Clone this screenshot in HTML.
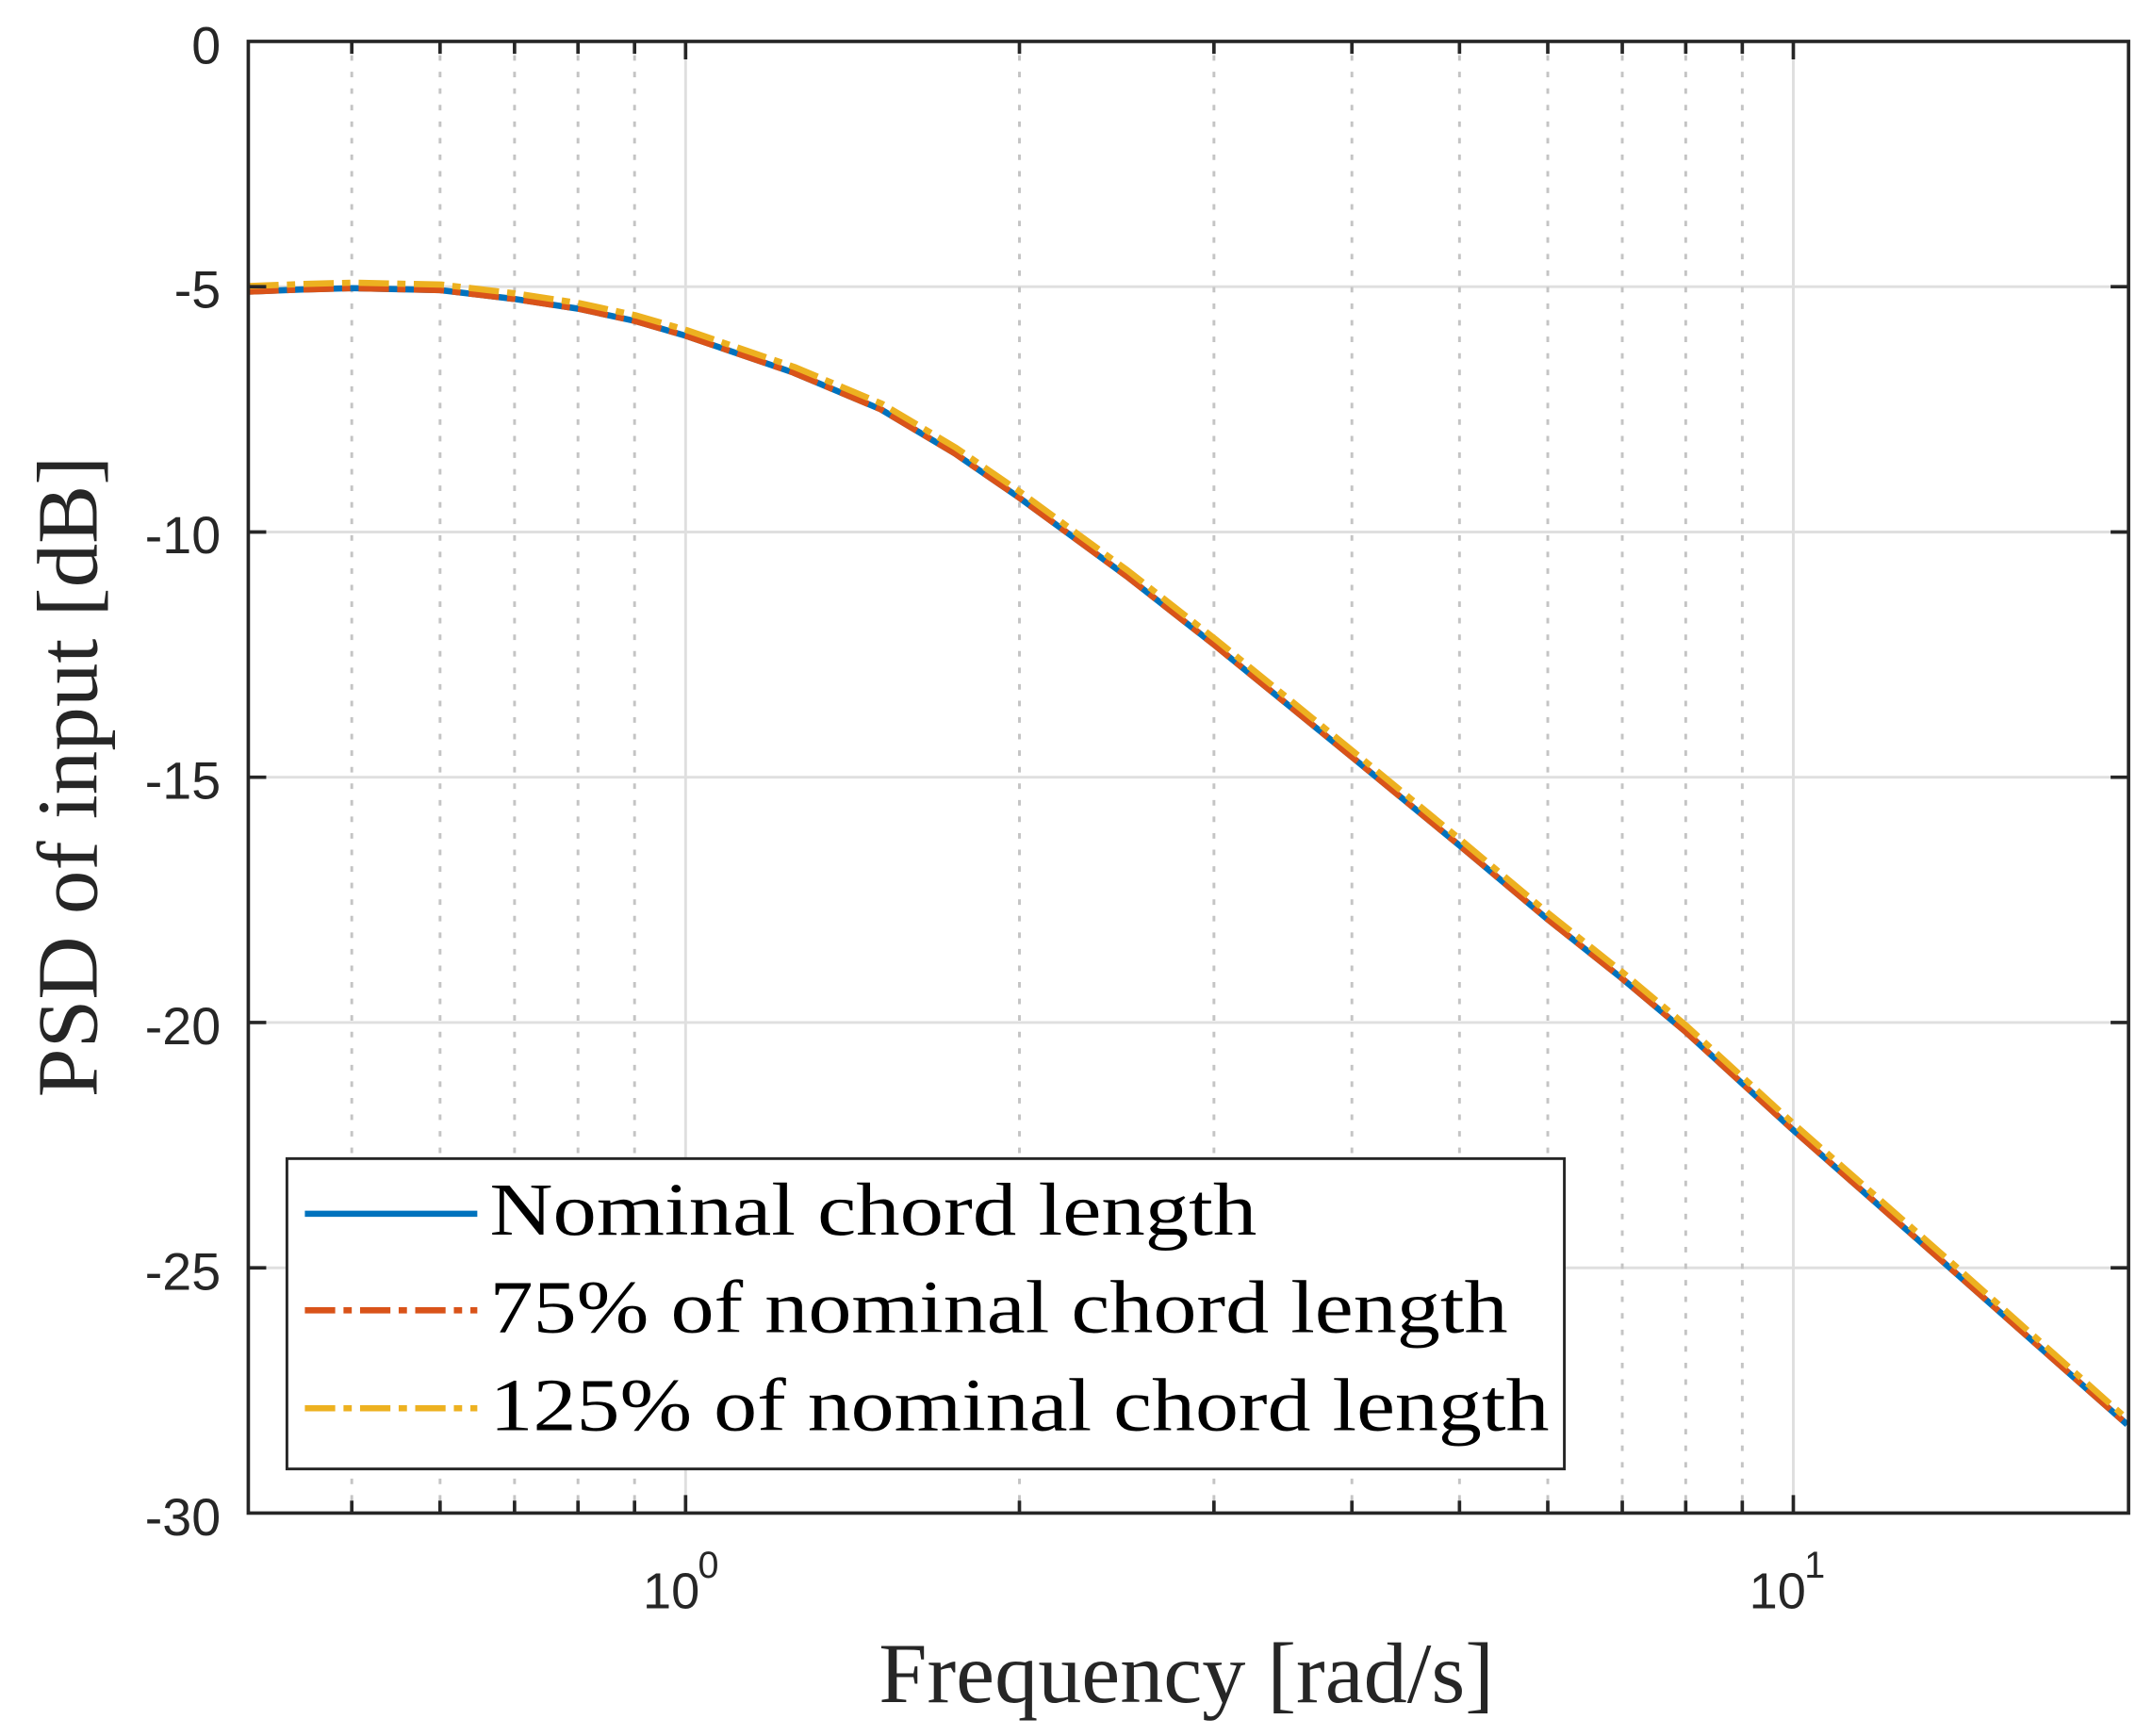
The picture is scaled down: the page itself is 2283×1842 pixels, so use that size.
<!DOCTYPE html>
<html><head><meta charset="utf-8"><style>
html,body{margin:0;padding:0;background:#fff;}
svg{display:block;}
</style></head><body>
<svg width="2283" height="1842" viewBox="0 0 1560 1258.6" xmlns="http://www.w3.org/2000/svg">
<rect x="0" y="0" width="1560" height="1258.6" fill="#fff"/>
<g stroke="#dfdfdf" stroke-width="2">
<line x1="180" x2="1543" y1="207.8" y2="207.8"/>
<line x1="180" x2="1543" y1="385.7" y2="385.7"/>
<line x1="180" x2="1543" y1="563.5" y2="563.5"/>
<line x1="180" x2="1543" y1="741.3" y2="741.3"/>
<line x1="180" x2="1543" y1="919.2" y2="919.2"/>
<line x1="497" x2="497" y1="30" y2="1097"/>
<line x1="1300" x2="1300" y1="30" y2="1097"/>
</g>
<g stroke="#c4c4c4" stroke-width="2" stroke-dasharray="4,8">
<line x1="255" x2="255" y1="40" y2="1097"/>
<line x1="319" x2="319" y1="40" y2="1097"/>
<line x1="373" x2="373" y1="40" y2="1097"/>
<line x1="419" x2="419" y1="40" y2="1097"/>
<line x1="460" x2="460" y1="40" y2="1097"/>
<line x1="739" x2="739" y1="40" y2="1097"/>
<line x1="880" x2="880" y1="40" y2="1097"/>
<line x1="980" x2="980" y1="40" y2="1097"/>
<line x1="1058" x2="1058" y1="40" y2="1097"/>
<line x1="1122" x2="1122" y1="40" y2="1097"/>
<line x1="1176" x2="1176" y1="40" y2="1097"/>
<line x1="1222" x2="1222" y1="40" y2="1097"/>
<line x1="1263" x2="1263" y1="40" y2="1097"/>
</g>
<g fill="none" stroke-width="4.5" stroke-linejoin="round">
<polyline stroke="#0072BD" points="180,211.4 218.5,209.9 255.3,208.9 318.9,210.3 372.6,216.7 419.2,223.8 460.3,232.7 497,243.4 574.8,270 638.4,296.7 692.1,328.7 738.7,360.7 816.5,417.6 880.1,467.4 980.5,549.2 1058.3,613.2 1121.9,666.5 1175.6,709.2 1222.2,748.3 1300,819.4 1417.3,922.6 1542,1032.8"/>
<polyline stroke="#D95319" stroke-dasharray="22,6,6,6" points="180,211.4 218.5,209.9 255.3,208.9 318.9,210.3 372.6,216.7 419.2,223.8 460.3,232.7 497,243.4 574.8,270 638.4,296.7 692.1,328.7 738.7,360.7 816.5,417.6 880.1,467.4 980.5,549.2 1058.3,613.2 1121.9,666.5 1175.6,709.2 1222.2,748.3 1300,819.4 1417.3,922.6 1542,1032.8"/>
<polyline stroke="#EDB120" stroke-dasharray="22,6,6,6" transform="translate(1,-4)" points="179,211.4 218.5,209.9 255.3,208.9 318.9,210.3 372.6,216.7 419.2,223.8 460.3,232.7 497,243.4 574.8,270 638.4,296.7 692.1,328.7 738.7,360.7 816.5,417.6 880.1,467.4 980.5,549.2 1058.3,613.2 1121.9,666.5 1175.6,709.2 1222.2,748.3 1300,819.4 1417.3,922.6 1541,1032.8"/>
</g>
<rect x="180" y="30" width="1363" height="1067" fill="none" stroke="#262626" stroke-width="2.5"/>
<g stroke="#262626" stroke-width="2.5">
<path d="M180,207.8h13M180,385.7h13M180,563.5h13M180,741.3h13M180,919.2h13M1543,207.8h-13M1543,385.7h-13M1543,563.5h-13M1543,741.3h-13M1543,919.2h-13"/>
<path d="M497,1097v-13M1300,1097v-13M497,30v13M1300,30v13"/>
<path d="M255,1097v-9M319,1097v-9M373,1097v-9M419,1097v-9M460,1097v-9M739,1097v-9M880,1097v-9M980,1097v-9M1058,1097v-9M1122,1097v-9M1176,1097v-9M1222,1097v-9M1263,1097v-9"/>
<path d="M255,30v9M319,30v9M373,30v9M419,30v9M460,30v9M739,30v9M880,30v9M980,30v9M1058,30v9M1122,30v9M1176,30v9M1222,30v9M1263,30v9"/>
</g>
<g font-family="Liberation Sans, sans-serif" font-size="38" fill="#262626" text-anchor="end">
<text x="160" y="46">0</text>
<text x="160" y="223">-5</text>
<text x="160" y="401">-10</text>
<text x="160" y="579">-15</text>
<text x="160" y="757">-20</text>
<text x="160" y="935">-25</text>
<text x="160" y="1113">-30</text>
</g>
<g font-family="Liberation Sans, sans-serif" font-size="37" fill="#262626">
<text x="466" y="1166">10</text><text x="506" y="1144" font-size="27">0</text>
<text x="1268" y="1166">10</text><text x="1308" y="1144" font-size="27">1</text>
</g>
<text x="860" y="1234" font-family="Liberation Serif, serif" font-size="62" fill="#262626" text-anchor="middle" textLength="446" lengthAdjust="spacingAndGlyphs">Frequency [rad/s]</text>
<text transform="translate(70,563) rotate(-90)" font-family="Liberation Serif, serif" font-size="62" fill="#262626" text-anchor="middle" textLength="465" lengthAdjust="spacingAndGlyphs">PSD of input [dB]</text>
<rect x="208" y="840" width="926" height="225" fill="#fff" stroke="#262626" stroke-width="2"/>
<line x1="221" x2="346" y1="880" y2="880" stroke="#0072BD" stroke-width="4.5"/>
<line x1="221" x2="346" y1="950" y2="950" stroke="#D95319" stroke-width="4.5" stroke-dasharray="22,6,6,6"/>
<line x1="221" x2="346" y1="1021" y2="1021" stroke="#EDB120" stroke-width="4.5" stroke-dasharray="22,6,6,6"/>
<g font-family="Liberation Serif, serif" font-size="54" fill="#000">
<text x="355" y="895" textLength="556" lengthAdjust="spacingAndGlyphs">Nominal chord length</text>
<text x="355" y="966" textLength="738" lengthAdjust="spacingAndGlyphs">75% of nominal chord length</text>
<text x="355" y="1037" textLength="768" lengthAdjust="spacingAndGlyphs">125% of nominal chord length</text>
</g>
</svg>
</body></html>
